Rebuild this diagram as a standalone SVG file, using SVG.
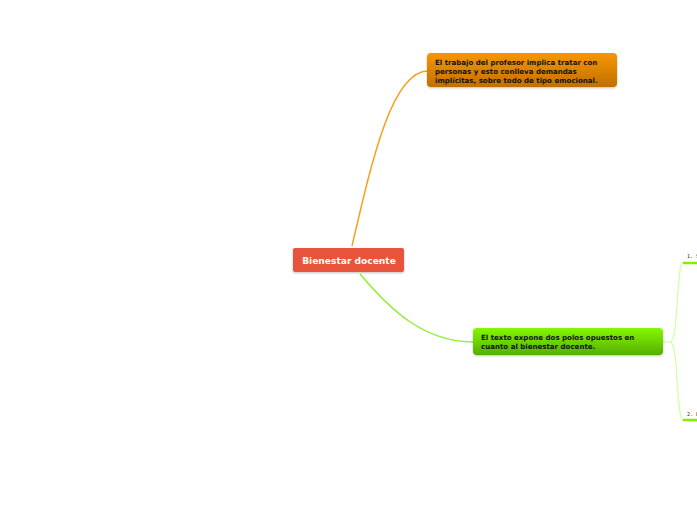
<svg xmlns="http://www.w3.org/2000/svg" width="697" height="520" viewBox="0 0 697 520">
<style>
.lbl{font-family:Verdana,"DejaVu Sans",sans-serif;font-weight:bold;font-size:7.05px;fill:#111}
.tiny{font-family:"DejaVu Sans Mono",monospace;font-size:5px;fill:#222}
.conn{fill:none}
</style>
<defs>
<linearGradient id="go" x1="0" y1="0" x2="0" y2="1"><stop offset="0" stop-color="#f79600"/><stop offset="1" stop-color="#c07000"/></linearGradient>
<linearGradient id="gg" x1="0" y1="0" x2="0" y2="1"><stop offset="0" stop-color="#84f800"/><stop offset="1" stop-color="#56ae00"/></linearGradient>
<filter id="sh" x="-10%" y="-20%" width="120%" height="150%"><feDropShadow dx="0" dy="1" stdDeviation="1" flood-color="#000" flood-opacity="0.25"/></filter>
</defs>
<rect width="697" height="520" fill="#fff"/>
<g id="connectors">
<path class="conn" d="M352,246 C372,160 392,71 428,71" stroke="#f7a020" stroke-width="1.5"/>
<path class="conn" d="M360,274 C392,312 425,342 474,342" stroke="#8fef30" stroke-width="1.5"/>
<path class="conn" d="M663,342 L670,342 C679,342 676,263 683,263" stroke="#d4ffa8" stroke-width="1.3"/>
<path class="conn" d="M670,342 C679,342 676,420 683,420" stroke="#d4ffa8" stroke-width="1.3"/>
<line x1="683" y1="263" x2="697" y2="263" stroke="#80f000" stroke-width="2.5"/>
<line x1="683" y1="420" x2="697" y2="420" stroke="#80f000" stroke-width="2.5"/>
</g>
<g id="central">
<rect x="293" y="248" width="111" height="24" rx="2" fill="#e8533b" filter="url(#sh)"/>
<text x="349" y="264" text-anchor="middle" font-family="Verdana,'DejaVu Sans',sans-serif" font-weight="bold" font-size="9.1" fill="#fff">Bienestar docente</text>
</g>
<g id="n1">
<rect x="427" y="53" width="190" height="34" rx="4" fill="url(#go)" filter="url(#sh)"/>
<text class="lbl" x="435" y="65">El trabajo del profesor implica tratar con</text>
<text class="lbl" x="435" y="74">personas y esto conlleva demandas</text>
<text class="lbl" x="435" y="83">implícitas, sobre todo de tipo emocional.</text>
</g>
<g id="n2">
<rect x="473" y="328" width="190" height="27" rx="4" fill="url(#gg)" filter="url(#sh)"/>
<text class="lbl" x="481" y="340">El texto expone dos polos opuestos en</text>
<text class="lbl" x="481" y="349">cuanto al bienestar docente.</text>
</g>
<g id="n3">
<text class="tiny" x="687" y="258">1. S</text>
</g>
<g id="n4">
<text class="tiny" x="687" y="416">2. E</text>
</g>
</svg>
